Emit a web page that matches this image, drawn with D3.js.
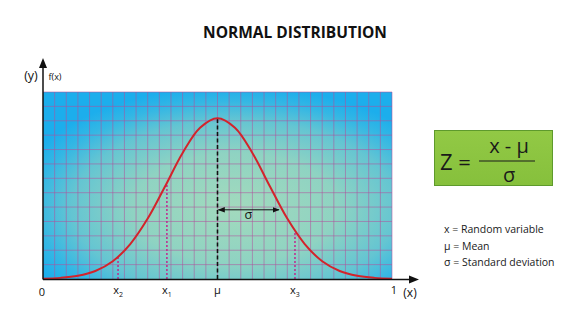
<!DOCTYPE html>
<html><head><meta charset="utf-8">
<script src="https://cdn.jsdelivr.net/npm/d3@7/dist/d3.min.js"></script>
<style>html,body{margin:0;padding:0;background:#fff;}svg{display:block;font-family:"Open Sans",sans-serif;}</style>
</head><body>
<svg id="c" width="576" height="321"></svg>
<script>
// ---- data ----
const curveX = [0,0.05,0.10,0.15,0.20,0.25,0.30,0.35,0.40,0.45,0.50,0.55,0.60,0.65,0.70,0.75,0.80,0.85,0.90,0.95,1.0];
const curveY = [0.002,0.006,0.017,0.043,0.095,0.187,0.323,0.496,0.674,0.809,0.860,0.809,0.674,0.496,0.323,0.187,0.095,0.043,0.017,0.006,0.002];
const markerNames = ["x","x","μ","x"];
const markerSubs  = ["2","1","","3"];
const markerX     = [0.215,0.355,0.5,0.722];
const markerY     = [0.118,0.514,0.860,0.257];
const endLabels   = ["0","1"];
const endX        = [0,1];
const sigmaSpan   = [0.5,0.676];
const sigmaLevel  = 0.37;
const gridCols = 30, gridRows = 13;
const legendLines = ["x = Random variable","μ = Mean","σ = Standard deviation"];

const svg = d3.select("#c");
const L=43, R=392, T=92, B=279;
const x = d3.scaleLinear().domain([0,1]).range([L,R]);
const y = d3.scaleLinear().domain([0,1]).range([B,T]);

const defs = svg.append("defs");
const g1 = defs.append("radialGradient").attr("id","bg").attr("cx","0.55").attr("cy","0.62").attr("r","0.65");
[[0,"#a2dabd"],[0.45,"#8fd3c2"],[0.72,"#64c5d2"],[0.88,"#34b7e4"],[1,"#1caeec"]].forEach(s=>g1.append("stop").attr("offset",s[0]).attr("stop-color",s[1]));
const g2 = defs.append("linearGradient").attr("id","zg").attr("x1",0).attr("x2",0).attr("y1",0).attr("y2",1);
g2.append("stop").attr("offset",0).attr("stop-color","#92c945");
g2.append("stop").attr("offset",1).attr("stop-color","#86c03c");

// background
svg.append("rect").attr("x",L).attr("y",T).attr("width",R-L).attr("height",B-T).attr("fill","url(#bg)");

// grid
const gx = d3.scaleLinear().domain([0,gridCols]).range([L,R]);
const gy = d3.scaleLinear().domain([0,gridRows]).range([B,T]);
const grid = svg.append("g").attr("stroke","#b0509c").attr("stroke-opacity",0.6).attr("stroke-width",0.9);
grid.selectAll("line.v").data(d3.range(1,gridCols+1)).join("line")
  .attr("x1",d=>gx(d)).attr("x2",d=>gx(d)).attr("y1",T).attr("y2",B);
grid.selectAll("line.h").data(d3.range(1,gridRows+1)).join("line").attr("class","h")
  .attr("x1",L).attr("x2",R).attr("y1",d=>gy(d)).attr("y2",d=>gy(d));

// marker dashed lines
markerX.forEach((mx,i)=>{
  const isMu = markerNames[i]==="μ";
  svg.append("line").attr("x1",x(mx)).attr("x2",x(mx)).attr("y1",y(0)).attr("y2",y(markerY[i]))
    .attr("stroke",isMu?"#111":"#c0278f").attr("stroke-width",isMu?1.6:1.5)
    .attr("stroke-dasharray",isMu?"4,2.5":"2,2");
});

// curve
const pts = curveX.map((v,i)=>[v,curveY[i]]);
svg.append("path").datum(pts)
  .attr("d",d3.line().x(d=>x(d[0])).y(d=>y(d[1])).curve(d3.curveCatmullRom))
  .attr("fill","none").attr("stroke","#d3232b").attr("stroke-width",2);

// sigma arrow
defs.append("marker").attr("id","ah").attr("viewBox","0 0 10 10").attr("refX",9).attr("refY",5)
  .attr("markerWidth",7).attr("markerHeight",7).attr("orient","auto-start-reverse")
  .append("path").attr("d","M0,1L10,5L0,9Z").attr("fill","#111");
svg.append("line").attr("x1",x(sigmaSpan[0])+1).attr("x2",x(sigmaSpan[1])).attr("y1",y(sigmaLevel)).attr("y2",y(sigmaLevel))
  .attr("stroke","#111").attr("stroke-width",1).attr("marker-start","url(#ah)").attr("marker-end","url(#ah)");
svg.append("text").attr("x",(x(sigmaSpan[0])+x(sigmaSpan[1]))/2).attr("y",y(sigmaLevel)+9).attr("text-anchor","middle")
  .attr("font-size",12.5).attr("fill","#111").text("σ");

// axes
const axisEndX = 419, axisTopY = 58;
svg.append("line").attr("x1",L).attr("x2",axisEndX-8).attr("y1",B+0.5).attr("y2",B+0.5).attr("stroke","#111").attr("stroke-width",1.5);
svg.append("path").attr("d",`M${axisEndX},${B+0.5}L${axisEndX-10},${B-3.5}L${axisEndX-10},${B+4.5}Z`).attr("fill","#111");
svg.append("line").attr("x1",L).attr("x2",L).attr("y1",B+0.5).attr("y2",axisTopY+8).attr("stroke","#111").attr("stroke-width",1.5);
svg.append("path").attr("d",`M${L},${axisTopY}L${L-4},${axisTopY+10}L${L+4},${axisTopY+10}Z`).attr("fill","#111");

// axis labels
const lab = svg.append("g").attr("fill","#111").attr("font-size",11).attr("text-anchor","middle");
endX.forEach((v,i)=>lab.append("text").attr("x",x(v)+(i===0?-1:2)).attr("y",B+(i===0?17:15)).text(endLabels[i]));
markerX.forEach((mx,i)=>{
  const t = lab.append("text").attr("x",x(mx)).attr("y",B+15);
  t.append("tspan").text(markerNames[i]);
  if(markerSubs[i]) t.append("tspan").attr("font-size",7).attr("dy",3).text(markerSubs[i]);
});
svg.append("text").attr("x",410).attr("y",B+18).attr("text-anchor","middle").attr("font-size",12).attr("fill","#111").text("(x)");
svg.append("text").attr("x",31).attr("y",80).attr("text-anchor","middle").attr("font-size",12.5).attr("fill","#111").text("(y)");
svg.append("text").attr("x",55).attr("y",80).attr("text-anchor","middle").attr("font-size",9).attr("fill","#111").text("f(x)");

// title
svg.append("text").attr("x",295).attr("y",38).attr("text-anchor","middle").attr("font-size",15.5).attr("font-weight","bold")
  .attr("fill","#111").text("NORMAL DISTRIBUTION");

// Z formula box
svg.append("rect").attr("x",434.5).attr("y",130.5).attr("width",118).attr("height",55).attr("fill","url(#zg)").attr("stroke","#5e9a2c").attr("stroke-width",1);
const zt = svg.append("g").attr("fill","#1a1a1a");
zt.append("text").attr("x",440).attr("y",170).attr("font-size",22).text("Z =");
zt.append("text").attr("x",509).attr("y",152.5).attr("text-anchor","middle").attr("font-size",20).text("x - μ");
zt.append("line").attr("x1",479).attr("x2",535).attr("y1",161).attr("y2",161).attr("stroke","#1a1a1a").attr("stroke-width",1.2);
zt.append("text").attr("x",509).attr("y",181.5).attr("text-anchor","middle").attr("font-size",20).text("σ");

// legend
svg.append("g").attr("fill","#1a1a1a").attr("font-size",10.5).selectAll("text").data(legendLines).join("text")
  .attr("x",444).attr("y",(d,i)=>233+i*16.5).text(d=>d);
</script>
</body></html>
